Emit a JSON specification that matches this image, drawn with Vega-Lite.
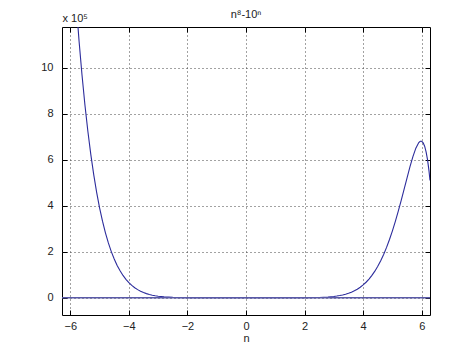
{
  "$schema": "https://vega.github.io/schema/vega-lite/v6.json",
  "width": 368,
  "height": 288,
  "autosize": {"type": "none"},
  "padding": {"left": 62, "top": 27, "right": 44, "bottom": 39},
  "background": "white",
  "title": {"text": "n⁸-10ⁿ", "fontSize": 11, "fontWeight": "normal", "font": "Liberation Sans", "color": "#222", "baseline": "bottom", "offset": -19, "anchor": "middle"},
  "config": {
    "view": {"stroke": "#000", "strokeWidth": 1},
    "axis": {
      "domain": false,
      "tickColor": "#000",
      "tickSize": -5,
      "labelFont": "Liberation Sans",
      "labelFontSize": 11,
      "labelColor": "#222",
      "titleFont": "Liberation Sans",
      "titleFontSize": 11,
      "titleFontWeight": "normal",
      "titleColor": "#222",
      "gridColor": "#444",
      "gridDash": [1, 3],
      "gridOpacity": 1,
      "gridWidth": 1
    }
  },
  "datasets": {
    "curve": [
      {"n": -6.2832, "y": 2429063},
      {"n": -6.2, "y": 2183390},
      {"n": -6.1, "y": 1917062},
      {"n": -6.0, "y": 1679616},
      {"n": -5.9, "y": 1468319},
      {"n": -5.8, "y": 1280631},
      {"n": -5.7, "y": 1114291},
      {"n": -5.6, "y": 967173},
      {"n": -5.5, "y": 837339},
      {"n": -5.4, "y": 723029},
      {"n": -5.3, "y": 622597},
      {"n": -5.2, "y": 534597},
      {"n": -5.1, "y": 457679},
      {"n": -5.0, "y": 390625},
      {"n": -4.9, "y": 332329},
      {"n": -4.8, "y": 281793},
      {"n": -4.7, "y": 238112},
      {"n": -4.6, "y": 200476},
      {"n": -4.5, "y": 168151},
      {"n": -4.4, "y": 140482},
      {"n": -4.3, "y": 116882},
      {"n": -4.2, "y": 96826},
      {"n": -4.1, "y": 79849},
      {"n": -4.0, "y": 65536},
      {"n": -3.9, "y": 53520},
      {"n": -3.8, "y": 43477},
      {"n": -3.7, "y": 35125},
      {"n": -3.6, "y": 28211},
      {"n": -3.5, "y": 22519},
      {"n": -3.4, "y": 17858},
      {"n": -3.3, "y": 14064},
      {"n": -3.2, "y": 10995},
      {"n": -3.1, "y": 8529},
      {"n": -3.0, "y": 6561},
      {"n": -2.8, "y": 3778},
      {"n": -2.5, "y": 1526},
      {"n": -2.0, "y": 256},
      {"n": -1.5, "y": 25.6},
      {"n": -1.0, "y": 0.9},
      {"n": -0.5, "y": -0.31},
      {"n": 0.0, "y": -1},
      {"n": 0.5, "y": -3.16},
      {"n": 1.0, "y": -9},
      {"n": 1.5, "y": -6},
      {"n": 2.0, "y": 156},
      {"n": 2.5, "y": 1210},
      {"n": 2.8, "y": 3147},
      {"n": 3.0, "y": 5561},
      {"n": 3.1, "y": 7270},
      {"n": 3.2, "y": 9410},
      {"n": 3.3, "y": 12069},
      {"n": 3.4, "y": 15346},
      {"n": 3.5, "y": 19357},
      {"n": 3.6, "y": 24230},
      {"n": 3.7, "y": 30113},
      {"n": 3.8, "y": 37167},
      {"n": 3.9, "y": 45577},
      {"n": 4.0, "y": 55536},
      {"n": 4.1, "y": 67260},
      {"n": 4.2, "y": 80977},
      {"n": 4.3, "y": 96929},
      {"n": 4.4, "y": 115363},
      {"n": 4.5, "y": 136528},
      {"n": 4.6, "y": 160665},
      {"n": 4.7, "y": 187993},
      {"n": 4.8, "y": 218697},
      {"n": 4.9, "y": 252896},
      {"n": 5.0, "y": 290625},
      {"n": 5.1, "y": 331786},
      {"n": 5.2, "y": 376108},
      {"n": 5.3, "y": 423073},
      {"n": 5.4, "y": 471840},
      {"n": 5.5, "y": 521111},
      {"n": 5.6, "y": 569066},
      {"n": 5.7, "y": 613108},
      {"n": 5.8, "y": 649674},
      {"n": 5.9, "y": 673991},
      {"n": 5.95, "y": 679604},
      {"n": 6.0, "y": 679616},
      {"n": 6.05, "y": 672885},
      {"n": 6.1, "y": 658137},
      {"n": 6.15, "y": 633907},
      {"n": 6.2, "y": 598497},
      {"n": 6.25, "y": 550027},
      {"n": 6.2832, "y": 509463}
    ],
    "zero": [
      {"n": -6.2832, "y": 0},
      {"n": 6.2832, "y": 0}
    ]
  },
  "layer": [
    {
      "data": {"name": "curve"},
      "mark": {"type": "line", "color": "#2c2c9c", "strokeWidth": 1.1, "clip": true},
      "encoding": {
        "x": {"field": "n", "type": "quantitative",
              "scale": {"domain": [-6.2832, 6.2832], "nice": false, "zero": false},
              "axis": {"orient": "bottom", "values": [-6, -4, -2, 0, 2, 4, 6], "grid": true, "title": "n", "labelPadding": 10, "titlePadding": 1}},
        "y": {"field": "y", "type": "quantitative",
              "scale": {"domain": [-75000, 1176000], "nice": false, "zero": false},
              "axis": {"orient": "left", "values": [0, 200000, 400000, 600000, 800000, 1000000], "grid": true,
                       "labelExpr": "format(datum.value / 100000, 'd')", "labelPadding": 14,
                       "title": "x 10⁵", "titleAngle": 0, "titleX": 0, "titleY": -6, "titleAlign": "left", "titleBaseline": "alphabetic"}}
      }
    },
    {
      "data": {"name": "zero"},
      "mark": {"type": "line", "color": "#5a5aa8", "strokeWidth": 1.5, "clip": true},
      "encoding": {
        "x": {"field": "n", "type": "quantitative", "axis": null},
        "y": {"field": "y", "type": "quantitative", "axis": null}
      }
    },
    {
      "data": {"name": "zero"},
      "mark": {"type": "line", "strokeOpacity": 0},
      "encoding": {
        "x": {"field": "n", "type": "quantitative",
              "axis": {"orient": "top", "values": [-6, -4, -2, 0, 2, 4, 6], "labels": false, "grid": false, "title": null}},
        "y": {"field": "y", "type": "quantitative",
              "axis": {"orient": "right", "values": [0, 200000, 400000, 600000, 800000, 1000000], "labels": false, "grid": false, "title": null}}
      }
    }
  ],
  "resolve": {"axis": {"x": "independent", "y": "independent"}}
}
